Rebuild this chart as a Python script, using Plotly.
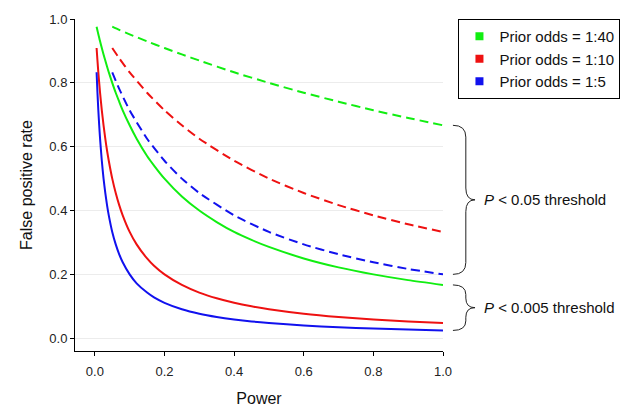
import plotly.graph_objects as go

# ---- data ----
power_solid = [0.005, 0.0075, 0.01, 0.0125, 0.015, 0.02, 0.025, 0.03, 0.035, 0.04, 0.05, 0.06,
               0.07, 0.08, 0.1, 0.12, 0.15, 0.17, 0.2, 0.25, 0.3, 0.35, 0.4, 0.45, 0.5,
               0.6, 0.7, 0.8, 0.9, 1.0]
fpr_40_p005 = [0.976, 0.964, 0.952, 0.941, 0.930, 0.909, 0.889, 0.870, 0.851, 0.833, 0.800, 0.769,
               0.741, 0.714, 0.667, 0.625, 0.571, 0.541, 0.500, 0.444, 0.400, 0.364, 0.333, 0.308, 0.286,
               0.250, 0.222, 0.200, 0.182, 0.167]
fpr_10_p005 = [0.909, 0.870, 0.833, 0.800, 0.769, 0.714, 0.667, 0.625, 0.588, 0.556, 0.500, 0.455,
               0.417, 0.385, 0.333, 0.294, 0.250, 0.227, 0.200, 0.167, 0.143, 0.125, 0.111, 0.100, 0.0909,
               0.0769, 0.0667, 0.0588, 0.0526, 0.0476]
fpr_5_p005 = [0.833, 0.769, 0.714, 0.667, 0.625, 0.556, 0.500, 0.455, 0.417, 0.385, 0.333, 0.294,
              0.263, 0.238, 0.200, 0.172, 0.143, 0.128, 0.111, 0.0909, 0.0769, 0.0667, 0.0588, 0.0526, 0.0476,
              0.0400, 0.0345, 0.0303, 0.0270, 0.0244]

power_dash = [0.05, 0.07, 0.1, 0.15, 0.2, 0.25, 0.3, 0.4, 0.5, 0.6, 0.7, 0.8, 0.9, 1.0]
fpr_40_p05 = [0.976, 0.966, 0.952, 0.930, 0.909, 0.889, 0.870, 0.833, 0.800, 0.769, 0.741, 0.714, 0.690, 0.667]
fpr_10_p05 = [0.909, 0.877, 0.833, 0.769, 0.714, 0.667, 0.625, 0.556, 0.500, 0.455, 0.417, 0.385, 0.357, 0.333]
fpr_5_p05 = [0.833, 0.781, 0.714, 0.625, 0.556, 0.500, 0.455, 0.385, 0.333, 0.294, 0.263, 0.238, 0.217, 0.200]

legend_labels = ["Prior odds = 1:40", "Prior odds = 1:10", "Prior odds = 1:5"]
colors = ["#11ee11", "#ee1111", "#1111ee"]

y_ticks = [0.0, 0.2, 0.4, 0.6, 0.8, 1.0]
x_ticks = [0.0, 0.2, 0.4, 0.6, 0.8, 1.0]

brace_05 = (0.667, 0.200)      # span of P<0.05 curves at power = 1
brace_005 = (0.167, 0.0244)    # span of P<0.005 curves at power = 1
label_05 = "<i>P</i> &lt; 0.05 threshold"
label_005 = "<i>P</i> &lt; 0.005 threshold"

FONT = "Arial, Liberation Sans, sans-serif"

fig = go.Figure()

solid = [fpr_40_p005, fpr_10_p005, fpr_5_p005]
dashed = [fpr_40_p05, fpr_10_p05, fpr_5_p05]
for ys, c in zip(dashed, colors):
    fig.add_trace(go.Scatter(x=power_dash, y=ys, mode="lines", showlegend=False,
                             line=dict(color=c, width=2, dash="9px,5px", shape="spline", smoothing=0.6)))
for ys, c in zip(solid, colors):
    fig.add_trace(go.Scatter(x=power_solid, y=ys, mode="lines", showlegend=False,
                             line=dict(color=c, width=2, shape="spline", smoothing=0.6)))
for lab, c in zip(legend_labels, colors):
    fig.add_trace(go.Scatter(x=[None], y=[None], mode="markers", name=lab,
                             marker=dict(symbol="square", size=8, color=c)))


def brace_path(yt, yb, r):
    x0, x1, x2 = 1.027, 1.062, 1.087
    ym = (yt + yb) / 2
    return (f"M {x0},{yt} Q {x1},{yt} {x1},{yt - r} L {x1},{ym + r} "
            f"Q {x1},{ym} {x2},{ym} Q {x1},{ym} {x1},{ym - r} "
            f"L {x1},{yb + r} Q {x1},{yb} {x0},{yb}")


for (yt, yb), r, lab in [(brace_05, 0.037, label_05), (brace_005, 0.03, label_005)]:
    fig.add_shape(type="path", xref="paper", yref="y", path=brace_path(yt, yb, r),
                  line=dict(color="#222222", width=1))
    fig.add_annotation(xref="paper", yref="y", x=1.105, y=(yt + yb) / 2, text=lab,
                       showarrow=False, xanchor="left", yanchor="middle",
                       font=dict(size=15, color="#111111", family=FONT))

axis_common = dict(showline=True, linecolor="black", linewidth=1, ticks="outside",
                   ticklen=4, tickcolor="black", zeroline=False,
                   tickfont=dict(size=13, color="#222222", family=FONT))

fig.update_layout(
    width=640, height=417,
    margin=dict(l=75, r=197, t=17, b=65),
    paper_bgcolor="white", plot_bgcolor="white",
    font=dict(family=FONT, color="#111111"),
    xaxis=dict(range=[-0.057, 1.0], tickvals=x_ticks, ticktext=[f"{v:.1f}" for v in x_ticks],
               showgrid=False, ticklabelstandoff=4,
               title=dict(text="Power", font=dict(size=16, family=FONT), standoff=15),
               **axis_common),
    yaxis=dict(range=[-0.04, 1.0], tickvals=y_ticks, ticktext=[f"{v:.1f}" for v in y_ticks],
               showgrid=True, gridcolor="#ececec", gridwidth=1,
               title=dict(text="False positive rate", font=dict(size=16, family=FONT), standoff=12),
               **axis_common),
    legend=dict(x=1.042, y=1.0, xanchor="left", yanchor="top", bordercolor="black",
                borderwidth=1, bgcolor="white", font=dict(size=15, family=FONT),
                itemwidth=30, tracegroupgap=0),
)

fig.write_html("out.html")
